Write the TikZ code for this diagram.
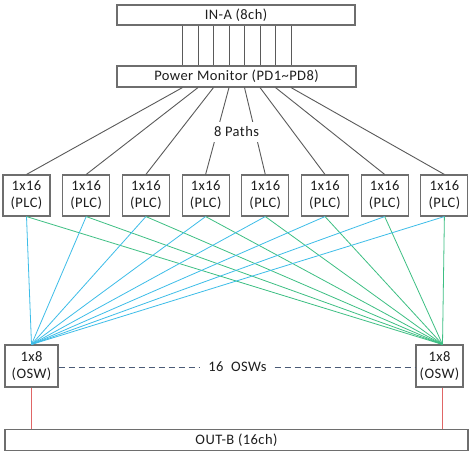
\documentclass[tikz,border=0pt]{standalone}
\usepackage{fontspec}
\setmainfont{Carlito}[LetterSpace=3]
\usetikzlibrary{calc}
\definecolor{boxgray}{HTML}{6E6E6E}
\definecolor{txt}{HTML}{1E1E1E}
\definecolor{pmgray}{HTML}{5A5A5A}
\definecolor{lblue}{HTML}{3DBDE8}
\definecolor{lgreen}{HTML}{3DBF83}
\definecolor{lred}{HTML}{E06666}
\definecolor{dashc}{HTML}{4A5A75}
\begin{document}
\begin{tikzpicture}[x=1pt,y=-1pt,
  box/.style={draw=boxgray,line width=1.1pt,fill=white,inner sep=0pt,
    font=\fontsize{14.5}{17}\selectfont,text=txt,align=center},
  pmline/.style={draw=pmgray,line width=0.9pt},
  blueline/.style={draw=lblue,line width=0.8pt},
  greenline/.style={draw=lgreen,line width=0.8pt},
  redline/.style={draw=lred,line width=0.8pt},
  dashline/.style={draw=dashc,line width=0.9pt,dash pattern=on 6pt off 4pt},
  lbl/.style={font=\fontsize{14.5}{17}\selectfont,text=txt,fill=white}]
\useasboundingbox[fill=white] (0,0) rectangle (474,459);

\node[box,minimum width=238pt,minimum height=20pt] (ina) at (236,15) {IN-A (8ch)};
\node[box,minimum width=239pt,minimum height=21pt] (pm) at (236.5,76.5) {Power Monitor (PD1\textasciitilde PD8)};

\foreach \i in {1,...,8}
  \node[box,minimum width=47pt,minimum height=41pt] (p\i) at ({26.5+59.7*(\i-1)},195.5) {1x16\\(PLC)};

\node[box,minimum width=53pt,minimum height=42pt] (osw1) at (31.5,366) {1x8\\(OSW)};
\node[box,minimum width=47pt,minimum height=42pt] (osw2) at (439.5,366) {1x8\\(OSW)};
\node[box,minimum width=463pt,minimum height=21.5pt] (outb) at (236.5,440) {OUT-B (16ch)};

\coordinate (c1) at (osw1.north);
\coordinate (c2) at ($(osw2.north)+(3,0)$);

\foreach \i in {1,...,8}{
  \coordinate (v\i) at ({182.5+15.5*(\i-1)},0);
  \draw[pmline] (v\i |- ina.south) -- (v\i |- pm.north);
  \draw[pmline] (v\i |- pm.south) -- (p\i.north);
}
\node[lbl,inner xsep=2pt,inner ysep=5pt] (paths) at (236.5,132) {8 Paths};

\foreach \i in {1,...,8}
  \draw[greenline] (p\i.south) -- (c2);
\foreach \i in {1,...,8}
  \draw[blueline] (p\i.south) -- (c1);

\draw[redline] (c1 |- osw1.south) -- (c1 |- outb.north);
\draw[redline] (c2 |- osw2.south) -- (c2 |- outb.north);

\node[lbl,inner xsep=8pt,inner ysep=1pt] (osws) at (237.5,367) {16\ \ OSWs};
\draw[dashline] (osw1.east |- osws) -- (osws.west);
\draw[dashline] (osws.east) -- (osw2.west |- osws);
\end{tikzpicture}
\end{document}
